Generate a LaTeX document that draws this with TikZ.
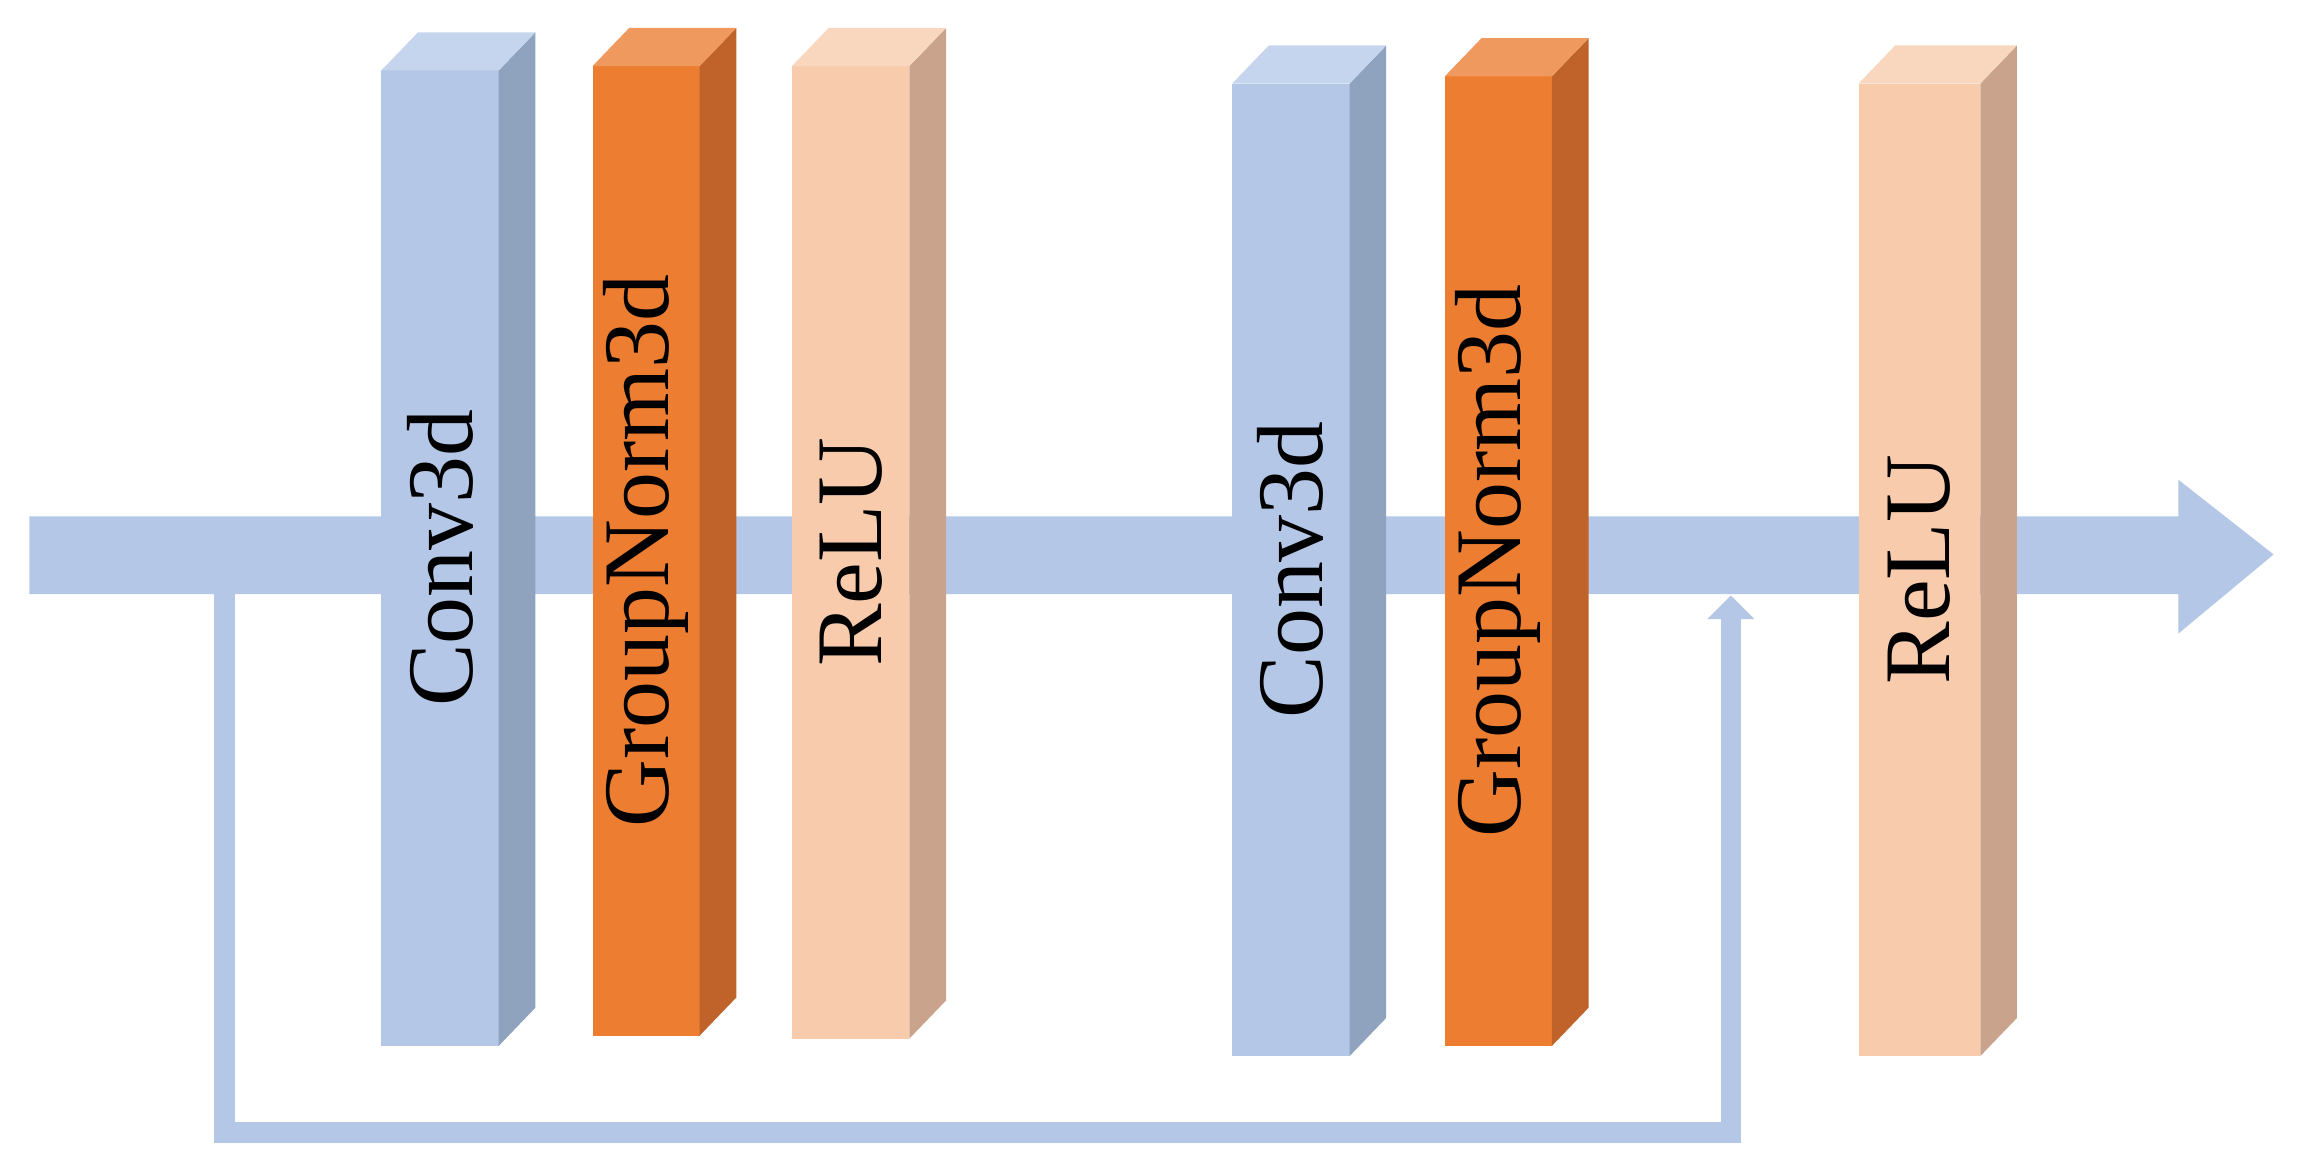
\documentclass[tikz,border=0pt]{standalone}
\usepackage{fontspec}
\setmainfont{Liberation Serif}
\definecolor{bF}{HTML}{B4C7E7}\definecolor{bS}{HTML}{8FA2BE}\definecolor{bT}{HTML}{C5D5EE}
\definecolor{oF}{HTML}{ED7D31}\definecolor{oS}{HTML}{C0632A}\definecolor{oT}{HTML}{F0995E}
\definecolor{pF}{HTML}{F8CBAD}\definecolor{pS}{HTML}{C9A38C}\definecolor{pT}{HTML}{F9D6BE}
\newcommand\myblk[7]{%
  \fill[#5F] (#1,#2) rectangle (#3,#4);
  \fill[#5S] (#3,#2) -- ++(25,-26) -- (#3+25,#4-26) -- (#3,#4) -- cycle;
  \fill[#5T] (#1,#2) -- ++(25,-26) -- (#3+25,#2-26) -- (#3,#2) -- cycle;
  \node[lbl] (#7) at ({(#1+#3)/2},{(#2+#4)/2}) {#6};}
\begin{document}
\begin{tikzpicture}[x=1pt,y=-1pt,
  lbl/.style={rotate=90,font=\fontsize{64}{66}\selectfont,inner sep=0pt}]
\useasboundingbox (0,0) rectangle (1568,800);
\fill[bF] (20,352) -- (1485,352) -- (1485,327) -- (1550,378) -- (1485,432) -- (1485,405) -- (20,405) -- cycle;
\coordinate (s0) at (153,400);
\coordinate (s1) at (153,772);
\coordinate (s2) at (1180,772);
\coordinate (s3) at (1180,406);
\draw[bF,line width=14pt] (s0) -- (s1) -- (s2) -- (1180,418);
\fill[bF] (s3) -- (1164,422) -- (1196,422) -- cycle;
\myblk{260}{48}{340}{713}{b}{Conv3d}{c1}
\myblk{404}{45}{477}{706}{o}{GroupNorm3d}{g1}
\myblk{540}{45}{620}{708}{p}{ReLU}{r1}
\myblk{840}{57}{920}{720}{b}{Conv3d}{c2}
\myblk{985}{52}{1058}{713}{o}{GroupNorm3d}{g2}
\myblk{1267}{57}{1350}{720}{p}{ReLU}{r2}
\end{tikzpicture}
\end{document}
